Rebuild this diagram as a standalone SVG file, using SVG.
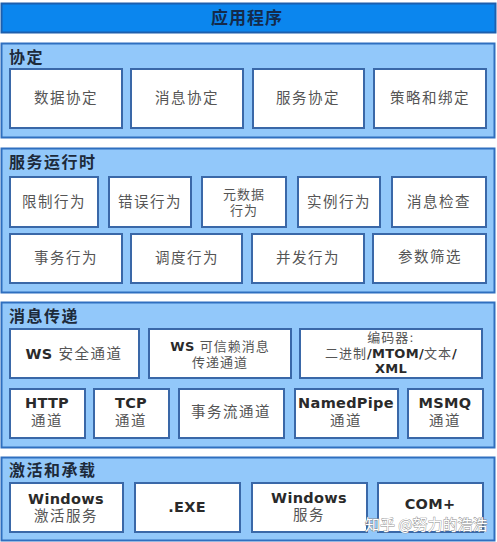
<svg xmlns="http://www.w3.org/2000/svg" width="497" height="542" viewBox="0 0 497 542">
<style>
.bar{fill:#0b86ee;stroke:#1d5fae;stroke-width:2}
.panel{fill:#92c8fa;stroke:#2f6fbf;stroke-width:2}
.box{fill:#ffffff;stroke:#3a68a8;stroke-width:2}
.title{font-family:"Noto Sans CJK SC",sans-serif;font-weight:bold;font-size:16px;fill:#1d2a3a;letter-spacing:1.5px}
.top{font-family:"Noto Sans CJK SC",sans-serif;font-weight:bold;font-size:17px;fill:#142a4a;letter-spacing:1px}
.t{font-family:"DejaVu Sans","Noto Sans CJK SC",sans-serif;font-size:14.5px;fill:#555;letter-spacing:1.5px;text-anchor:middle;dominant-baseline:central}
.s{font-size:13px;letter-spacing:1px}
.en{font-family:"DejaVu Sans",sans-serif;font-weight:bold;fill:#2a2a2a;letter-spacing:0.3px}
.wm{font-family:"Noto Sans CJK SC",sans-serif;font-size:15px;fill:#ffffff;stroke:#8a8a8a;stroke-width:0.8px;paint-order:stroke}
</style>
<g id="app">
<rect class="bar" x="1.5" y="3.5" width="494" height="29"/>
<text class="top" x="247" y="24" text-anchor="middle">应用程序</text>
</g>
<g id="contracts">
<rect class="panel" x="1.5" y="43.5" width="493" height="94"/>
<text class="title" x="9" y="63">协定</text>
</g>
<g id="data-contract"><rect class="box" x="10" y="69" width="112" height="59"/><text class="t" x="66" y="98">数据协定</text></g>
<g id="message-contract"><rect class="box" x="131" y="69" width="112" height="59"/><text class="t" x="187" y="98">消息协定</text></g>
<g id="service-contract"><rect class="box" x="253" y="69" width="111" height="59"/><text class="t" x="308" y="98">服务协定</text></g>
<g id="policy-binding"><rect class="box" x="374" y="69" width="112" height="59"/><text class="t" x="430" y="98">策略和绑定</text></g>

<g id="runtime">
<rect class="panel" x="1.5" y="148.5" width="493" height="144"/>
<text class="title" x="9" y="168">服务运行时</text>
</g>
<g id="throttling"><rect class="box" x="10" y="177" width="88" height="50"/><text class="t" x="54" y="202">限制行为</text></g>
<g id="error"><rect class="box" x="109" y="177" width="82" height="50"/><text class="t" x="150" y="202">错误行为</text></g>
<g id="metadata"><rect class="box" x="202" y="177" width="84" height="50"/><text class="t s" x="244" y="194">元数据</text><text class="t s" x="244" y="210">行为</text></g>
<g id="instance"><rect class="box" x="298" y="177" width="82" height="50"/><text class="t" x="339" y="202">实例行为</text></g>
<g id="inspection"><rect class="box" x="392" y="177" width="94" height="50"/><text class="t" x="439" y="202">消息检查</text></g>
<g id="transaction"><rect class="box" x="10" y="234" width="112" height="49"/><text class="t" x="66" y="258">事务行为</text></g>
<g id="dispatch"><rect class="box" x="131" y="234" width="111" height="49"/><text class="t" x="187" y="258">调度行为</text></g>
<g id="concurrency"><rect class="box" x="252" y="234" width="112" height="49"/><text class="t" x="308" y="258">并发行为</text></g>
<g id="parameter"><rect class="box" x="373" y="234" width="113" height="49"/><text class="t" x="430" y="257">参数筛选</text></g>

<g id="messaging">
<rect class="panel" x="1.5" y="302.5" width="493" height="145"/>
<text class="title" x="9" y="322">消息传递</text>
</g>
<g id="ws-security"><rect class="box" x="10" y="329" width="129" height="49"/><text class="t" x="74" y="354"><tspan class="en">WS</tspan> 安全通道</text></g>
<g id="ws-reliable"><rect class="box" x="149" y="329" width="142" height="49"/><text class="t s" x="220" y="346"><tspan class="en">WS</tspan> 可信赖消息</text><text class="t s" x="220" y="362">传递通道</text></g>
<g id="encoders"><rect class="box" x="300" y="329" width="182" height="49"/><text class="t s" x="391" y="337">编码器:</text><text class="t s" x="391" y="353">二进制<tspan class="en">/MTOM/</tspan>文本<tspan class="en">/</tspan></text><text class="t s" x="391" y="368"><tspan class="en">XML</tspan></text></g>
<g id="http"><rect class="box" x="10" y="389" width="75" height="49"/><text class="t" x="47" y="403"><tspan class="en">HTTP</tspan></text><text class="t" x="47" y="421">通道</text></g>
<g id="tcp"><rect class="box" x="94" y="389" width="75" height="49"/><text class="t" x="131" y="403"><tspan class="en">TCP</tspan></text><text class="t" x="131" y="421">通道</text></g>
<g id="txflow"><rect class="box" x="179" y="389" width="105" height="49"/><text class="t" x="231" y="412">事务流通道</text></g>
<g id="namedpipe"><rect class="box" x="295" y="389" width="103" height="49"/><text class="t" x="346" y="403"><tspan class="en">NamedPipe</tspan></text><text class="t" x="346" y="421">通道</text></g>
<g id="msmq"><rect class="box" x="408" y="389" width="75" height="49"/><text class="t" x="445" y="403"><tspan class="en">MSMQ</tspan></text><text class="t" x="445" y="421">通道</text></g>

<g id="hosting">
<rect class="panel" x="1.5" y="457.5" width="493" height="83"/>
<text class="title" x="9" y="476">激活和承载</text>
</g>
<g id="was"><rect class="box" x="10" y="483" width="113" height="49"/><text class="t" x="66" y="499"><tspan class="en">Windows</tspan></text><text class="t" x="66" y="516">激活服务</text></g>
<g id="exe"><rect class="box" x="135" y="483" width="105" height="49"/><text class="t" x="187" y="507"><tspan class="en">.EXE</tspan></text></g>
<g id="winsvc"><rect class="box" x="252" y="483" width="115" height="49"/><text class="t" x="309" y="498"><tspan class="en">Windows</tspan></text><text class="t" x="309" y="515">服务</text></g>
<g id="complus"><rect class="box" x="378" y="483" width="105" height="49"/><text class="t" x="430" y="504"><tspan class="en">COM+</tspan></text></g>
<g id="connectors"/>
<text class="wm" x="365" y="530">知乎 @努力的浩浩</text>
</svg>
